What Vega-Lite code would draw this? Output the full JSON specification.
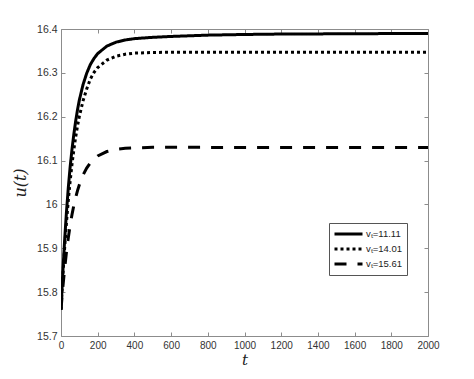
{
  "$schema": "https://vega.github.io/schema/vega-lite/v6.json",
  "autosize": "none",
  "width": 367,
  "height": 307,
  "padding": {"left": 61, "top": 29, "right": 46, "bottom": 43},
  "background": "white",
  "config": {
    "view": {"stroke": null},
    "axis": {
      "domainColor": "#8c8c8c",
      "tickColor": "#8c8c8c",
      "labelColor": "#333333",
      "labelFont": "Liberation Sans",
      "labelFontSize": 10.5,
      "labelFlush": false,
      "grid": false,
      "tickSize": -4,
      "domainWidth": 1
    }
  },
  "data": {
    "values": [
      {"t": 0, "s": "vₜ=11.11", "u": 15.760},
      {"t": 10, "s": "vₜ=11.11", "u": 15.846},
      {"t": 20, "s": "vₜ=11.11", "u": 15.920},
      {"t": 30, "s": "vₜ=11.11", "u": 15.984},
      {"t": 40, "s": "vₜ=11.11", "u": 16.039},
      {"t": 50, "s": "vₜ=11.11", "u": 16.086},
      {"t": 60, "s": "vₜ=11.11", "u": 16.126},
      {"t": 70, "s": "vₜ=11.11", "u": 16.160},
      {"t": 80, "s": "vₜ=11.11", "u": 16.190},
      {"t": 90, "s": "vₜ=11.11", "u": 16.216},
      {"t": 100, "s": "vₜ=11.11", "u": 16.238},
      {"t": 120, "s": "vₜ=11.11", "u": 16.273},
      {"t": 140, "s": "vₜ=11.11", "u": 16.299},
      {"t": 160, "s": "vₜ=11.11", "u": 16.319},
      {"t": 180, "s": "vₜ=11.11", "u": 16.333},
      {"t": 200, "s": "vₜ=11.11", "u": 16.344},
      {"t": 250, "s": "vₜ=11.11", "u": 16.361},
      {"t": 300, "s": "vₜ=11.11", "u": 16.370},
      {"t": 350, "s": "vₜ=11.11", "u": 16.375},
      {"t": 400, "s": "vₜ=11.11", "u": 16.378},
      {"t": 500, "s": "vₜ=11.11", "u": 16.381},
      {"t": 600, "s": "vₜ=11.11", "u": 16.383},
      {"t": 800, "s": "vₜ=11.11", "u": 16.386},
      {"t": 1000, "s": "vₜ=11.11", "u": 16.3875},
      {"t": 1200, "s": "vₜ=11.11", "u": 16.3885},
      {"t": 1500, "s": "vₜ=11.11", "u": 16.389},
      {"t": 2000, "s": "vₜ=11.11", "u": 16.390},
      {"t": 0, "s": "vₜ=14.01", "u": 15.760},
      {"t": 10, "s": "vₜ=14.01", "u": 15.836},
      {"t": 20, "s": "vₜ=14.01", "u": 15.902},
      {"t": 30, "s": "vₜ=14.01", "u": 15.960},
      {"t": 40, "s": "vₜ=14.01", "u": 16.010},
      {"t": 50, "s": "vₜ=14.01", "u": 16.054},
      {"t": 60, "s": "vₜ=14.01", "u": 16.092},
      {"t": 70, "s": "vₜ=14.01", "u": 16.125},
      {"t": 80, "s": "vₜ=14.01", "u": 16.154},
      {"t": 90, "s": "vₜ=14.01", "u": 16.179},
      {"t": 100, "s": "vₜ=14.01", "u": 16.201},
      {"t": 120, "s": "vₜ=14.01", "u": 16.236},
      {"t": 140, "s": "vₜ=14.01", "u": 16.263},
      {"t": 160, "s": "vₜ=14.01", "u": 16.286},
      {"t": 180, "s": "vₜ=14.01", "u": 16.301},
      {"t": 200, "s": "vₜ=14.01", "u": 16.312},
      {"t": 250, "s": "vₜ=14.01", "u": 16.329},
      {"t": 300, "s": "vₜ=14.01", "u": 16.338},
      {"t": 350, "s": "vₜ=14.01", "u": 16.3425},
      {"t": 400, "s": "vₜ=14.01", "u": 16.345},
      {"t": 500, "s": "vₜ=14.01", "u": 16.3464},
      {"t": 600, "s": "vₜ=14.01", "u": 16.347},
      {"t": 1000, "s": "vₜ=14.01", "u": 16.347},
      {"t": 2000, "s": "vₜ=14.01", "u": 16.347},
      {"t": 0, "s": "vₜ=15.61", "u": 15.760},
      {"t": 10, "s": "vₜ=15.61", "u": 15.811},
      {"t": 20, "s": "vₜ=15.61", "u": 15.854},
      {"t": 30, "s": "vₜ=15.61", "u": 15.892},
      {"t": 40, "s": "vₜ=15.61", "u": 15.9245},
      {"t": 50, "s": "vₜ=15.61", "u": 15.953},
      {"t": 60, "s": "vₜ=15.61", "u": 15.977},
      {"t": 70, "s": "vₜ=15.61", "u": 15.998},
      {"t": 80, "s": "vₜ=15.61", "u": 16.016},
      {"t": 90, "s": "vₜ=15.61", "u": 16.0315},
      {"t": 100, "s": "vₜ=15.61", "u": 16.045},
      {"t": 120, "s": "vₜ=15.61", "u": 16.067},
      {"t": 140, "s": "vₜ=15.61", "u": 16.083},
      {"t": 160, "s": "vₜ=15.61", "u": 16.095},
      {"t": 180, "s": "vₜ=15.61", "u": 16.104},
      {"t": 200, "s": "vₜ=15.61", "u": 16.1105},
      {"t": 250, "s": "vₜ=15.61", "u": 16.1206},
      {"t": 300, "s": "vₜ=15.61", "u": 16.1255},
      {"t": 350, "s": "vₜ=15.61", "u": 16.128},
      {"t": 400, "s": "vₜ=15.61", "u": 16.129},
      {"t": 500, "s": "vₜ=15.61", "u": 16.1302},
      {"t": 1000, "s": "vₜ=15.61", "u": 16.130},
      {"t": 2000, "s": "vₜ=15.61", "u": 16.130}
    ]
  },
  "layer": [
    {
      "mark": {"type": "line", "color": "black", "strokeWidth": 3, "strokeCap": "butt", "clip": true},
      "encoding": {
        "x": {
          "field": "t", "type": "quantitative",
          "scale": {"domain": [0, 2000], "nice": false},
          "axis": {
            "orient": "bottom",
            "values": [0, 200, 400, 600, 800, 1000, 1200, 1400, 1600, 1800, 2000],
            "format": "d",
            "labelOverlap": false,
            "labelFontSize": 10,
            "labelPadding": 8,
            "title": "t",
            "titleFont": "DejaVu Serif",
            "titleFontStyle": "italic",
            "titleFontWeight": "normal",
            "titleFontSize": 15,
            "titleColor": "#222222",
            "titlePadding": 2
          }
        },
        "y": {
          "field": "u", "type": "quantitative",
          "scale": {"domain": [15.7, 16.4], "nice": false, "zero": false},
          "axis": {
            "orient": "left",
            "values": [15.7, 15.8, 15.9, 16, 16.1, 16.2, 16.3, 16.4],
            "format": ".1~f",
            "labelOverlap": false,
            "labelPadding": 8,
            "title": "u(t)",
            "titleFont": "DejaVu Serif",
            "titleFontStyle": "italic",
            "titleFontWeight": "normal",
            "titleFontSize": 16,
            "titleColor": "#222222",
            "titlePadding": 8
          }
        },
        "strokeDash": {
          "field": "s", "type": "nominal",
          "scale": {"domain": ["vₜ=11.11", "vₜ=14.01", "vₜ=15.61"], "range": [[1, 0], [3, 3], [12, 11]]},
          "legend": {
            "orient": "none",
            "legendX": 268,
            "legendY": 194,
            "title": null,
            "strokeColor": "#555555",
            "fillColor": "white",
            "padding": 4,
            "symbolType": "stroke",
            "symbolSize": 784,
            "clipHeight": 14,
            "symbolStrokeWidth": 3,
            "symbolStrokeColor": "black",
            "labelFont": "Liberation Sans",
            "labelFontSize": 9.5,
            "labelColor": "#222222",
            "rowPadding": 1,
            "labelOffset": 2
          }
        },
        "detail": {"field": "s", "type": "nominal"}
      }
    },
    {
      "mark": {"type": "line", "opacity": 0},
      "encoding": {
        "x": {
          "field": "t", "type": "quantitative",
          "axis": {"orient": "top", "values": [0, 200, 400, 600, 800, 1000, 1200, 1400, 1600, 1800, 2000], "labels": false, "title": null}
        },
        "y": {
          "field": "u", "type": "quantitative",
          "axis": {"orient": "right", "values": [15.7, 15.8, 15.9, 16, 16.1, 16.2, 16.3, 16.4], "labels": false, "title": null}
        },
        "detail": {"field": "s", "type": "nominal"}
      }
    }
  ],
  "resolve": {"axis": {"x": "independent", "y": "independent"}}
}
